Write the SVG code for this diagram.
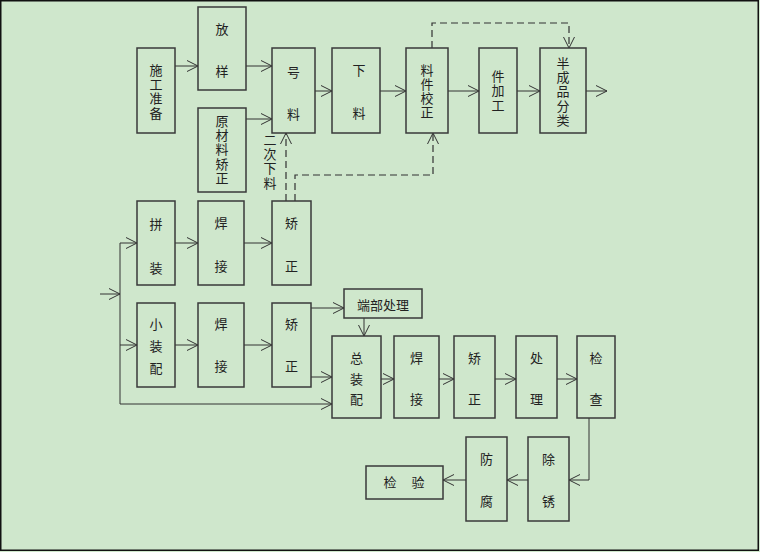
<svg xmlns="http://www.w3.org/2000/svg" width="760" height="552" viewBox="0 0 760 552">
<style>
.bx{fill:none;stroke:#3a3a3a;stroke-width:1.5}
.ln{fill:none;stroke:#333;stroke-width:1;marker-end:url(#ah)}
.ln0{fill:none;stroke:#333;stroke-width:1}
.dsa{fill:none;stroke:#333;stroke-width:1.2;stroke-dasharray:7 4;marker-end:url(#ah)}
text{font-family:"Noto Sans CJK SC","Noto Sans CJK TC",sans-serif;font-size:13px;fill:#222;text-anchor:middle;dominant-baseline:central}
.v{writing-mode:vertical-rl;letter-spacing:1.2px}
</style>
<defs>
<marker id="ah" viewBox="0 0 12 12" refX="11" refY="6" markerWidth="12" markerHeight="12" markerUnits="userSpaceOnUse" orient="auto">
<path d="M0,0.5 L11,6 L0,11.5" fill="none" stroke="#333" stroke-width="1"/>
</marker>
</defs>
<rect x="0" y="0" width="760" height="552" fill="#cfe7cc"/>
<rect x="0.75" y="0.75" width="757.5" height="549.5" fill="none" stroke="#111" stroke-width="1.5"/>

<g id="connectors">
<line class="ln" x1="175" y1="66" x2="198" y2="66"/>
<line class="ln" x1="246" y1="66" x2="272" y2="66"/>
<line class="ln" x1="246" y1="119" x2="272" y2="119"/>
<line class="ln" x1="315" y1="91" x2="332" y2="91"/>
<line class="ln" x1="380" y1="91" x2="406" y2="91"/>
<line class="ln" x1="448" y1="91" x2="479" y2="91"/>
<line class="ln" x1="517" y1="91" x2="540" y2="91"/>
<line class="ln" x1="586" y1="91" x2="607" y2="91"/>
<polyline class="dsa" points="432,48 432,23 569,23 569,48"/>
<line class="dsa" x1="286" y1="201" x2="286" y2="133"/>
<polyline class="dsa" points="295,201 295,175 433,175 433,133"/>
<line class="ln" x1="100" y1="294" x2="120" y2="294"/>
<line class="ln0" x1="120" y1="243" x2="120" y2="404"/>
<line class="ln" x1="120" y1="243" x2="137" y2="243"/>
<line class="ln" x1="175" y1="243" x2="198" y2="243"/>
<line class="ln" x1="244" y1="243" x2="272" y2="243"/>
<line class="ln" x1="120" y1="345" x2="137" y2="345"/>
<line class="ln" x1="175" y1="345" x2="198" y2="345"/>
<line class="ln" x1="244" y1="345" x2="272" y2="345"/>
<line class="ln" x1="311" y1="308" x2="344" y2="308"/>
<line class="ln" x1="311" y1="377" x2="332" y2="377"/>
<line class="ln" x1="120" y1="404" x2="332" y2="404"/>
<line class="ln" x1="364" y1="318" x2="364" y2="336"/>
<line class="ln" x1="381" y1="379" x2="394" y2="379"/>
<line class="ln" x1="439" y1="379" x2="454" y2="379"/>
<line class="ln" x1="495" y1="379" x2="516" y2="379"/>
<line class="ln" x1="557" y1="379" x2="577" y2="379"/>
<polyline class="ln" points="589,418 589,480 569,480"/>
<line class="ln" x1="528" y1="480" x2="507" y2="480"/>
<line class="ln" x1="466" y1="480" x2="443" y2="480"/>
</g>

<g id="n-shigong"><rect class="bx" x="137" y="48" width="38" height="85"/>
<text class="v" x="156" y="92">施工准备</text></g>
<g id="n-fangyang"><rect class="bx" x="198" y="7" width="48" height="83"/>
<text><tspan x="222" y="28">放</tspan><tspan x="222" y="70">样</tspan></text></g>
<g id="n-yuancailiao"><rect class="bx" x="198" y="108" width="48" height="84"/>
<text class="v" x="222" y="150">原材料矫正</text></g>
<g id="n-haoliao"><rect class="bx" x="272" y="48" width="43" height="85"/>
<text><tspan x="293.5" y="71">号</tspan><tspan x="293.5" y="113">料</tspan></text></g>
<g id="n-xialiao"><rect class="bx" x="332" y="48" width="48" height="85"/>
<text><tspan x="359" y="69">下</tspan><tspan x="359" y="112">料</tspan></text></g>
<g id="n-liaojian"><rect class="bx" x="406" y="48" width="42" height="85"/>
<text class="v" x="427" y="91.5">料件校正</text></g>
<g id="n-jianjiagong"><rect class="bx" x="479" y="48" width="38" height="85"/>
<text class="v" x="498" y="91">件加工</text></g>
<g id="n-banchengpin"><rect class="bx" x="540" y="48" width="46" height="85"/>
<text class="v" x="563" y="92">半成品分类</text></g>
<g id="l-erci"><text class="v" x="270" y="162">二次下料</text></g>

<g id="n-pinzhuang"><rect class="bx" x="137" y="201" width="38" height="84"/>
<text><tspan x="156" y="223">拼</tspan><tspan x="156" y="267">装</tspan></text></g>
<g id="n-hanjie1"><rect class="bx" x="198" y="201" width="46" height="84"/>
<text><tspan x="221" y="222">焊</tspan><tspan x="221" y="265">接</tspan></text></g>
<g id="n-jiaozheng1"><rect class="bx" x="272" y="201" width="39" height="84"/>
<text><tspan x="291.5" y="222">矫</tspan><tspan x="291.5" y="265">正</tspan></text></g>
<g id="n-xiaozhuangpei"><rect class="bx" x="137" y="303" width="38" height="84"/>
<text><tspan x="156" y="323">小</tspan><tspan x="156" y="345">装</tspan><tspan x="156" y="367">配</tspan></text></g>
<g id="n-hanjie2"><rect class="bx" x="198" y="303" width="46" height="84"/>
<text><tspan x="221" y="323">焊</tspan><tspan x="221" y="365">接</tspan></text></g>
<g id="n-jiaozheng2"><rect class="bx" x="272" y="303" width="39" height="84"/>
<text><tspan x="291.5" y="323">矫</tspan><tspan x="291.5" y="365">正</tspan></text></g>
<g id="n-duanbu"><rect class="bx" x="344" y="289" width="78" height="29"/>
<text x="383" y="304">端部处理</text></g>
<g id="n-zongzhuangpei"><rect class="bx" x="332" y="336" width="49" height="82"/>
<text><tspan x="356.5" y="357">总</tspan><tspan x="356.5" y="378">装</tspan><tspan x="356.5" y="398">配</tspan></text></g>
<g id="n-hanjie3"><rect class="bx" x="394" y="336" width="45" height="82"/>
<text><tspan x="416.5" y="357">焊</tspan><tspan x="416.5" y="398">接</tspan></text></g>
<g id="n-jiaozheng3"><rect class="bx" x="454" y="336" width="41" height="82"/>
<text><tspan x="474.5" y="357">矫</tspan><tspan x="474.5" y="398">正</tspan></text></g>
<g id="n-chuli"><rect class="bx" x="516" y="336" width="41" height="82"/>
<text><tspan x="536.5" y="357">处</tspan><tspan x="536.5" y="398">理</tspan></text></g>
<g id="n-jiancha"><rect class="bx" x="577" y="336" width="38" height="82"/>
<text><tspan x="596" y="357">检</tspan><tspan x="596" y="398">查</tspan></text></g>
<g id="n-chuxiu"><rect class="bx" x="528" y="437" width="41" height="84"/>
<text><tspan x="548.5" y="458">除</tspan><tspan x="548.5" y="500">锈</tspan></text></g>
<g id="n-fangfu"><rect class="bx" x="466" y="437" width="41" height="84"/>
<text><tspan x="486.5" y="458">防</tspan><tspan x="486.5" y="500">腐</tspan></text></g>
<g id="n-jianyan"><rect class="bx" x="366" y="466" width="77" height="33"/>
<text><tspan x="390" y="481">检</tspan><tspan x="418" y="481">验</tspan></text></g>
</svg>
